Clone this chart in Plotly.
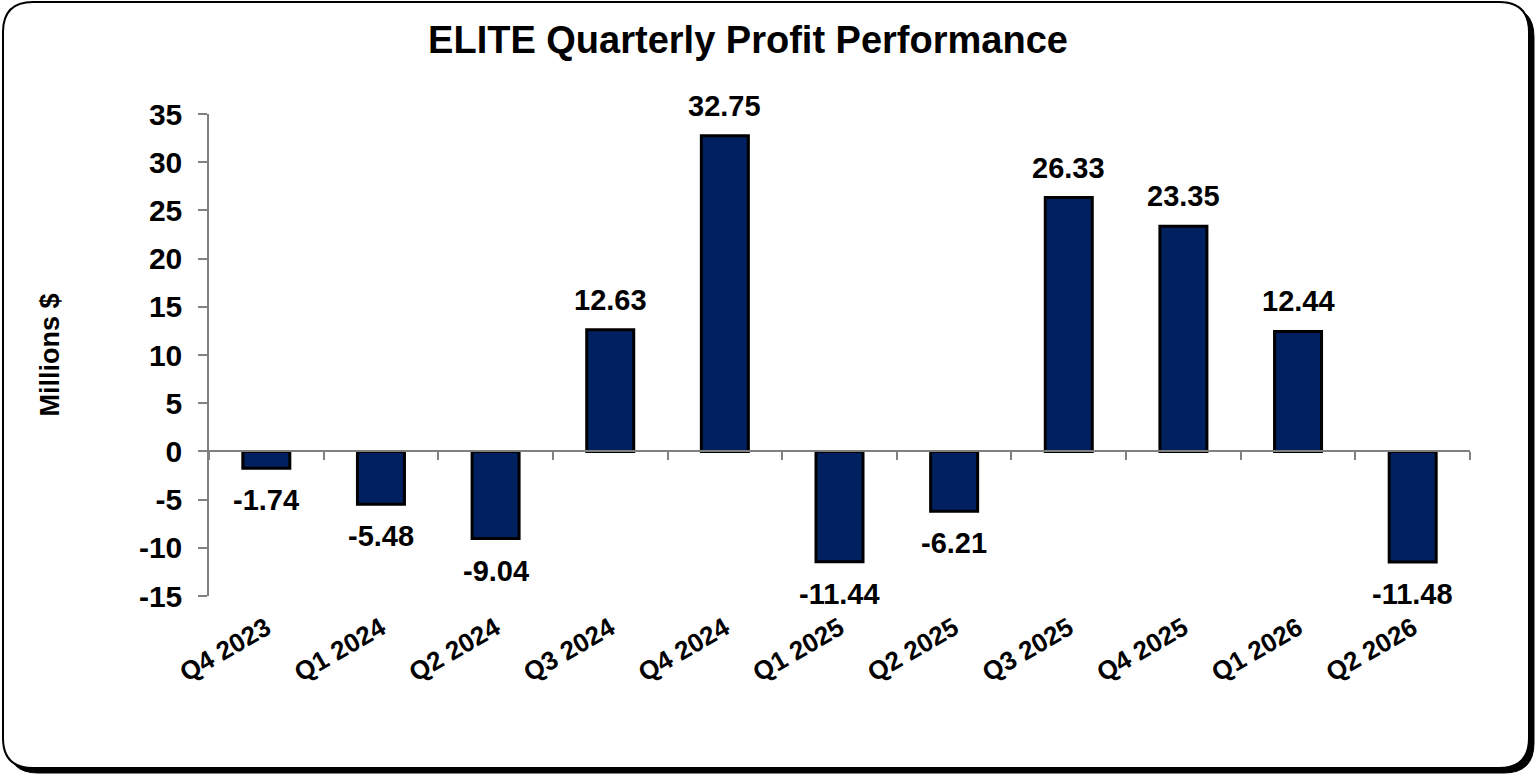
import plotly.graph_objects as go

quarters = ["Q4 2023", "Q1 2024", "Q2 2024", "Q3 2024", "Q4 2024", "Q1 2025",
            "Q2 2025", "Q3 2025", "Q4 2025", "Q1 2026", "Q2 2026"]
profit = [-1.74, -5.48, -9.04, 12.63, 32.75, -11.44, -6.21, 26.33, 23.35, 12.44, -11.48]
y_ticks = [-15, -10, -5, 0, 5, 10, 15, 20, 25, 30, 35]
y_tick_text = [str(v) for v in y_ticks]

W, H = 1536, 775
ML, MR, MT, MB = 209, 66, 114, 179
PW, PH = W - ML - MR, H - MT - MB
FONT = "Liberation Sans, Arial, sans-serif"

def px2paper(x, y):
    return (x - ML) / PW, (H - MB - y) / PH

def rounded_path(x0, y0, x1, y1, r):
    pts = [("M", [(x0 + r, y0)]), ("L", [(x1 - r, y0)]), ("Q", [(x1, y0), (x1, y0 + r)]),
           ("L", [(x1, y1 - r)]), ("Q", [(x1, y1), (x1 - r, y1)]), ("L", [(x0 + r, y1)]),
           ("Q", [(x0, y1), (x0, y1 - r)]), ("L", [(x0, y0 + r)]), ("Q", [(x0, y0), (x0 + r, y0)])]
    s = ""
    for cmd, ps in pts:
        s += cmd + " " + " ".join("%.5f,%.5f" % px2paper(a, b) for a, b in ps) + " "
    return s + "Z"

fig = go.Figure()
fig.add_trace(go.Bar(
    x=quarters, y=profit,
    marker=dict(color="#002060", line=dict(color="black", width=3)),
    hoverinfo="x+y",
))
# invisible helper trace for the zero-crossing category axis
fig.add_trace(go.Scatter(x=quarters, y=profit, xaxis="x2", mode="markers",
                         marker=dict(opacity=0), hoverinfo="skip", showlegend=False))

annotations = []
for q, v in zip(quarters, profit):
    annotations.append(dict(
        x=q, y=v, xref="x", yref="y", text="%.2f" % v, showarrow=False,
        yanchor="bottom" if v >= 0 else "top",
        yshift=12 if v >= 0 else -14,
        font=dict(family=FONT, size=29, color="black", weight="bold"),
    ))

shapes = [
    dict(type="path", xref="paper", yref="paper", path=rounded_path(8, 7, 1534, 773, 30),
         fillcolor="black", line=dict(color="black", width=1), layer="below"),
    dict(type="path", xref="paper", yref="paper", path=rounded_path(3, 2, 1529, 768, 30),
         fillcolor="white", line=dict(color="black", width=2), layer="below"),
]

fig.update_layout(
    width=W, height=H,
    margin=dict(l=ML, r=MR, t=MT, b=MB, autoexpand=False),
    paper_bgcolor="white", plot_bgcolor="rgba(0,0,0,0)",
    showlegend=False,
    bargap=0.59,
    title=dict(text="ELITE Quarterly Profit Performance", x=748 / W, xanchor="center",
               y=1 - 40 / H, yanchor="middle", xref="container", yref="container",
               font=dict(family=FONT, size=38, color="black", weight="bold")),
    xaxis=dict(type="category", categoryorder="array", categoryarray=quarters,
               range=[-0.5, len(quarters) - 0.5], showline=False, ticks="",
               tickangle=-30, ticklabelstandoff=11,
               tickfont=dict(family=FONT, size=26, color="black", weight="bold"),
               showgrid=False, zeroline=False),
    xaxis2=dict(type="category", categoryorder="array", categoryarray=quarters,
                range=[-0.5, len(quarters) - 0.5], overlaying="x", anchor="free",
                position=15 / 50, showline=True, linecolor="#808080", linewidth=1.5,
                ticks="outside", tickson="boundaries", ticklen=8, tickcolor="#808080",
                tickwidth=1.5, showticklabels=False, showgrid=False, zeroline=False),
    yaxis=dict(range=[-15, 35], tickvals=y_ticks, ticktext=y_tick_text,
               showline=True, linecolor="#808080", ticklabelstandoff=10,
               linewidth=1.5, ticks="outside", ticklen=9, tickcolor="#808080", tickwidth=1.5,
               showgrid=False, zeroline=False,
               tickfont=dict(family=FONT, size=30, color="black", weight="bold"),
               title=dict(text="Millions $", standoff=71,
                          font=dict(family=FONT, size=27, color="black", weight="bold"))),
    annotations=annotations,
    shapes=shapes,
)

fig.write_html("out.html")
